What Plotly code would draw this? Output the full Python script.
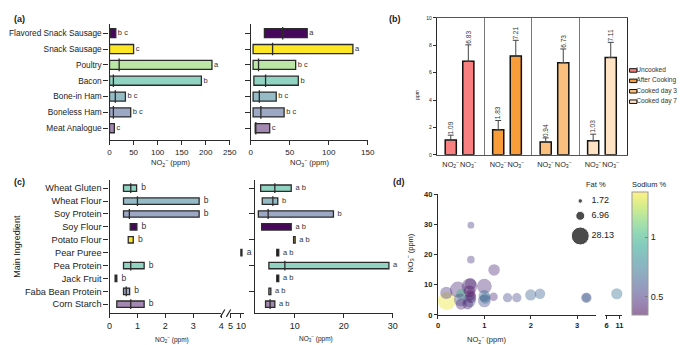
import numpy as np
import plotly.graph_objects as go
from plotly.colors import sequential, hex_to_rgb

W, H = 685, 345
FONT = "Liberation Sans, Arial, sans-serif"
DARK = "#2b2b2b"
TXT = "#333333"

# ---------------- DATA ----------------
# (a) processed meats
meat_products = ["Flavored Snack Sausage", "Snack Sausage", "Poultry", "Bacon",
                 "Bone-in Ham", "Boneless Ham", "Meat Analogue"]
meat_no2_min = [1, 0, 0, 0, 0, 0, 0]
meat_no2_max = [13, 50, 213, 191, 33, 44, 10]
meat_no2_med = [None, None, 20, 8, 12, 8, None]
meat_no2_grp = ["b c", "c", "a", "b", "b c", "b c", "c"]
meat_no3_min = [17.5, 3, 3, 4, 3, 3, 5.7]
meat_no3_max = [72.4, 131, 57.6, 61, 32.7, 42.8, 24.3]
meat_no3_med = [41, 28, 10, 19, 11, 13, 6.5]
meat_no3_grp = ["a", "a", "b c", "b", "b c", "b c", "c"]

# (b) cooking stages
stages = ["Uncooked", "After Cooking", "Cooked day 3", "Cooked day 7"]
ions = ["NO<sub>2</sub><sup>−</sup>", "NO<sub>3</sub><sup>−</sup>"]
no2_mean = [1.09, 1.83, 0.94, 1.03]
no2_sd = [0.35, 0.68, 0.30, 0.48]
no3_mean = [6.83, 7.21, 6.73, 7.11]
no3_sd = [1.20, 1.15, 1.00, 1.10]

# (c) main ingredient
ingredients = ["Wheat Gluten", "Wheat Flour", "Soy Protein", "Soy Flour", "Potato Flour",
               "Pear Puree", "Pea Protein", "Jack Fruit", "Faba Bean Protein", "Corn Starch"]
ing_no2_min = [0.5, 0.5, 0.5, 0.74, 0.67, 10.0, 0.5, 0.2, 0.5, 0.26]
ing_no2_max = [0.97, 3.21, 3.21, 0.98, 0.85, 10.5, 1.24, 0.26, 0.72, 1.24]
ing_no2_med = [0.76, 1.0, 0.71, None, None, None, 0.76, None, 0.6, 0.76]
ing_no2_grp = ["b", "b", "b", "b", "b", "a", "b", "b", "b", "b"]
ing_no3_min = [3.07, 3.4, 2.6, 3.27, 9.78, 6.36, 4.75, 6.36, 4.75, 4.07]
ing_no3_max = [9.3, 6.56, 17.9, 9.3, 10.1, 6.76, 29.2, 6.76, 5.15, 5.96]
ing_no3_med = [5.96, 5.56, 4.6, None, None, None, 8.0, None, None, 5.0]
ing_no3_grp = ["a b", "b", "b", "a b", "a b", "a b", "a", "a b", "a b", "a b"]

# (d) bubble scatter
nitrite = [0.19, 0.18, 0.43, 0.50, 0.50, 0.48, 0.71, 0.71, 1.21, 0.68, 0.70, 0.68, 0.70, 0.68,
           0.71, 0.64, 1.00, 1.00, 1.00, 1.02, 1.20, 1.50, 1.70, 2.00, 2.20, 3.20, 3.20, 10.0]
nitrate = [4.6, 7.3, 8.4, 6.8, 3.6, 5.0, 29.7, 18.3, 14.9, 9.5, 10.3, 7.8, 6.5, 4.6,
           5.7, 3.6, 9.5, 6.3, 4.6, 5.5, 6.0, 5.7, 5.7, 6.6, 7.0, 5.7, 5.7, 7.0]
fat = [28.13, 13, 22, 9, 11, 14, 4, 5, 11.5, 21, 12, 12, 10, 14,
       10, 10, 19, 12, 14, 10, 6, 7.5, 7.5, 11, 9.5, 9.5, 7, 11]
sodium = [1.35, 0.48, 0.45, 1.0, 0.42, 0.55, 0.5, 0.5, 0.45, 0.45, 0.4, 0.38, 0.36, 0.62,
          0.38, 0.4, 0.45, 0.65, 0.55, 0.7, 0.45, 0.55, 0.55, 0.65, 0.65, 0.6, 0.62, 0.7]
fat_legend = [1.72, 6.96, 28.13]

# ---------------- STYLE ----------------
meat_colors = ["#46085a", "#fde725", "#bce6a6", "#90d3c1", "#94bbc6", "#9da8c5", "#a388b1"]
ing_colors = ["#90d3c1", "#94bbc6", "#9da8c5", "#46085a", "#fde725",
              "#111111", "#90d3c1", "#111111", "#9da8c5", "#a388b1"]
stage_colors = ["#f98080", "#f99c3a", "#fbc07e", "#fde2c4"]
NB = "\u00a0"


def dx(a, b):
    return [a / W, b / W]


def dy(top, bottom):
    return [1 - bottom / H, 1 - top / H]


def rgba(hexc, a):
    r, g, b = hex_to_rgb(hexc)
    return f"rgba({r},{g},{b},{a})"


vir = sequential.Viridis
cscale = [[i / (len(vir) - 1), rgba(c, 0.55)] for i, c in enumerate(vir)]

fig = go.Figure()


def float_bars(cats, mins, maxs, colors, xa, ya, width):
    return go.Bar(orientation="h", y=cats, x=[b - a for a, b in zip(mins, maxs)], base=mins,
                  width=width, marker=dict(color=colors, line=dict(color=DARK, width=1.3)),
                  xaxis=xa, yaxis=ya, showlegend=False, hoverinfo="skip")


def med_marks(cats, meds, xa, ya, size):
    c = [k for k, m in zip(cats, meds) if m is not None]
    m = [v for v in meds if v is not None]
    return go.Scatter(x=m, y=c, mode="markers", xaxis=xa, yaxis=ya, showlegend=False,
                      hoverinfo="skip",
                      marker=dict(symbol="line-ns", size=size, line=dict(color=DARK, width=1.3)))


def letters(cats, xs, txt, xa, ya, size, pad=1):
    return go.Scatter(x=xs, y=cats, text=[NB * pad + t for t in txt], mode="text",
                      textposition="middle right",
                      textfont=dict(size=size, color=TXT, family=FONT), xaxis=xa, yaxis=ya,
                      showlegend=False, hoverinfo="skip", cliponaxis=False)


def pick(idx, seq):
    return [seq[i] for i in idx]


# (a) left / right
fig.add_trace(float_bars(meat_products, meat_no2_min, meat_no2_max, meat_colors, "x", "y", 0.57))
fig.add_trace(med_marks(meat_products, meat_no2_med, "x", "y", 9))
fig.add_trace(letters(meat_products, meat_no2_max, meat_no2_grp, "x", "y", 7.5))
fig.add_trace(float_bars(meat_products, meat_no3_min, meat_no3_max, meat_colors, "x2", "y2", 0.57))
fig.add_trace(med_marks(meat_products, meat_no3_med, "x2", "y2", 9))
fig.add_trace(letters(meat_products, meat_no3_max, meat_no3_grp, "x2", "y2", 7.5))

# (b) bars
offs = [0.29, 0.66]
for g, st in enumerate(stages):
    fig.add_trace(go.Bar(x=[g + offs[0], g + offs[1]], y=[no2_mean[g], no3_mean[g]], width=0.234,
                         marker=dict(color=stage_colors[g], line=dict(color="#111", width=1.5)),
                         error_y=dict(type="data", symmetric=False, array=[no2_sd[g], no3_sd[g]],
                                      arrayminus=[0, 0], thickness=1, width=3, color="#444"),
                         xaxis="x3", yaxis="y3", showlegend=False, name=st, hoverinfo="skip"))
fig.add_trace(go.Scatter(x=[0.5], y=[0], mode="markers", marker=dict(opacity=0), xaxis="x4",
                         yaxis="y3", showlegend=False, hoverinfo="skip"))
# (b) legend (drawn manually for compact spacing)
leg_y = [60 + 10.7 * i for i in range(len(stages))]
fig.add_trace(go.Bar(orientation="h", y=leg_y, x=[7.5] * len(stages), base=[627.7] * len(stages),
                     width=3.6, marker=dict(color=stage_colors, line=dict(color="#111", width=1)),
                     xaxis="x5", yaxis="y5", showlegend=False, hoverinfo="skip"))
fig.add_trace(go.Scatter(x=[634.5] * len(stages), y=leg_y, text=stages, mode="text",
                         textposition="middle right",
                         textfont=dict(size=6.6, color=TXT, family=FONT), xaxis="x5", yaxis="y5",
                         showlegend=False, hoverinfo="skip", cliponaxis=False))

# (c) left (broken axis) / right
lo = [i for i, m in enumerate(ing_no2_max) if m <= 4]
hi = [i for i, m in enumerate(ing_no2_min) if m >= 5]
for idx, xa in ((lo, "x6"), (hi, "x7")):
    fig.add_trace(float_bars(pick(idx, ingredients), pick(idx, ing_no2_min), pick(idx, ing_no2_max),
                             pick(idx, ing_colors), xa, "y6", 0.5))
    fig.add_trace(med_marks(pick(idx, ingredients), pick(idx, ing_no2_med), xa, "y6", 7))
    fig.add_trace(letters(pick(idx, ingredients), pick(idx, ing_no2_max), pick(idx, ing_no2_grp),
                          xa, "y6", 8.5, pad=2))
fig.add_trace(float_bars(ingredients, ing_no3_min, ing_no3_max, ing_colors, "x8", "y8", 0.5))
fig.add_trace(med_marks(ingredients, ing_no3_med, "x8", "y8", 7))
fig.add_trace(letters(ingredients, ing_no3_max, ing_no3_grp, "x8", "y8", 7.5, pad=2))

# (d) bubbles
K = 3.39
main = [i for i, v in enumerate(nitrite) if v <= 3.4]
far = [i for i, v in enumerate(nitrite) if v > 3.4]
for idx, xa, show in ((main, "x9", True), (far, "x10", False)):
    fig.add_trace(go.Scatter(
        x=pick(idx, nitrite), y=pick(idx, nitrate), mode="markers", xaxis=xa, yaxis="y9",
        showlegend=False, hoverinfo="skip", cliponaxis=False,
        marker=dict(size=[K * np.sqrt(f) for f in pick(idx, fat)], color=pick(idx, sodium),
                    colorscale=cscale, cmin=0.34, cmax=1.38, showscale=show, line=dict(width=0),
                    colorbar=dict(x=630.7 / W, xanchor="left", y=1 - 248.3 / H, yanchor="middle",
                                  len=123, lenmode="pixels", thickness=16,
                                  thicknessmode="pixels", xpad=0, ypad=0, outlinewidth=1,
                                  outlinecolor="#999", tickvals=[0.5, 1], ticktext=["0.5", "1"],
                                  ticks="inside", ticklen=3, tickcolor="#777",
                                  tickfont=dict(size=9, color="#222", family=FONT)))))
# size legend
fig.add_trace(go.Scatter(x=[577.7] * 3, y=[194, 209.3, 230], mode="markers",
                         marker=dict(size=[K * np.sqrt(f) for f in fat_legend], color="black"),
                         xaxis="x11", yaxis="y11", showlegend=False, hoverinfo="skip",
                         cliponaxis=False))
fig.add_trace(go.Scatter(x=[589] * 3, y=[194, 209.3, 230], mode="text",
                         text=[f"{v:.2f}" for v in fat_legend], textposition="middle right",
                         textfont=dict(size=9, color="#222", family=FONT),
                         xaxis="x11", yaxis="y11", showlegend=False, hoverinfo="skip",
                         cliponaxis=False))


# ---------------- AXES ----------------
def ax(**kw):
    d = dict(showgrid=False, zeroline=False, showline=True, linecolor=DARK, linewidth=1.3,
             ticks="outside", tickcolor=DARK, tickwidth=1, ticklen=4,
             tickfont=dict(size=8, color="#222", family=FONT), fixedrange=True)
    d.update(kw)
    return d


def hidden(domain, rng, anchor):
    return dict(domain=domain, range=rng, visible=False, anchor=anchor, fixedrange=True)


bold = lambda vals: [f"<b>{v}</b>" for v in vals]

layout = dict(
    xaxis=ax(domain=dx(100, 222), range=[0, 250], tickvals=[0, 50, 100, 150, 200, 250], anchor="y"),
    yaxis=ax(domain=dy(12, 131.7), type="category", categoryorder="array",
             categoryarray=meat_products, range=[6.76, -0.6], anchor="x", ticklen=5,
             tickfont=dict(size=8.3, color="#222", family=FONT)),
    xaxis2=ax(domain=dx(243.3, 362), range=[0, 150], tickvals=[0, 50, 100, 150], anchor="y2"),
    yaxis2=ax(domain=dy(12, 131.7), type="category", categoryorder="array",
              categoryarray=meat_products, range=[6.76, -0.6], anchor="x2", ticklen=5,
              showticklabels=False),
    xaxis3=ax(domain=dx(432.3, 625), range=[0, 4], anchor="y3", mirror=True, linecolor="#555",
              tickvals=[g + o for g in range(len(stages)) for o in offs],
              ticktext=ions * len(stages), ticks="", ticklabelstandoff=2, tickangle=0,
              tickfont=dict(size=7.3, color="#222", family=FONT)),
    xaxis4=dict(overlaying="x3", range=[0, 4], anchor="y3", showline=False, ticks="",
                showticklabels=False, showgrid=True, gridcolor="#777", gridwidth=1,
                tickvals=[1, 2, 3], zeroline=False, fixedrange=True),
    yaxis3=ax(domain=dy(6, 146.7), range=[0, 10], tickvals=[0, 2, 4, 6, 8, 10], anchor="x3",
              mirror=True, ticklen=3, tickfont=dict(size=5, color="#222", family=FONT)),
    xaxis5=hidden(dx(626, 685), [626, 685], "y5"),
    yaxis5=hidden(dy(54, 98), [98, 54], "x5"),
    xaxis6=ax(domain=dx(100, 213.3), range=[0, 4], tickvals=[0, 1, 2, 3, 4], anchor="y6",
              tickfont=dict(size=9, color="#222", family=FONT)),
    xaxis7=ax(domain=dx(222.7, 236.7), range=[5, 11.6], tickvals=[5, 10], anchor="y6",
              tickfont=dict(size=9, color="#222", family=FONT)),
    yaxis6=ax(domain=dy(173, 309.3), type="category", categoryorder="array",
              categoryarray=ingredients, range=[9.7, -0.6], anchor="x6", ticklen=5,
              tickfont=dict(size=9.2, color="#222", family=FONT)),
    xaxis8=ax(domain=dx(248, 387.5), range=[2, 30], tickvals=[10, 20, 30], anchor="y8",
              tickfont=dict(size=9, color="#222", family=FONT)),
    yaxis8=ax(domain=dy(173, 309.3), type="category", categoryorder="array",
              categoryarray=ingredients, range=[9.7, -0.6], anchor="x8", ticklen=5,
              showticklabels=False),
    xaxis9=ax(domain=dx(433.3, 593.3), range=[0, 3.4], tickvals=[0, 1, 2, 3],
              ticktext=bold([0, 1, 2, 3]), anchor="y9", ticklen=3,
              tickfont=dict(size=7.5, color="#222", family=FONT)),
    xaxis10=ax(domain=dx(602.3, 620), range=[5.23, 12.0], tickvals=[6, 11],
               ticktext=bold([6, 11]), anchor="y9", ticklen=3,
               tickfont=dict(size=7.5, color="#222", family=FONT)),
    yaxis9=ax(domain=dy(187, 311), range=[0, 40], tickvals=[0, 10, 20, 30, 40],
              ticktext=bold([0, 10, 20, 30, 40]), anchor="x9", ticklen=3,
              tickfont=dict(size=7.5, color="#222", family=FONT)),
    xaxis11=hidden(dx(560, 630), [560, 630], "y11"),
    yaxis11=hidden(dy(183, 242), [242, 183], "x11"),
)


def ann(x, y, text, size, angle=0, bold_=False, xanchor="center"):
    return dict(x=x / W, y=1 - y / H, xref="paper", yref="paper", showarrow=False,
                text=f"<b>{text}</b>" if bold_ else text, textangle=angle, xanchor=xanchor,
                yanchor="middle", font=dict(size=size, color="#222", family=FONT))


NO2 = "NO<sub>2</sub><sup>−</sup> (ppm)"
NO3 = "NO<sub>3</sub><sup>−</sup> (ppm)"
anns = [
    ann(1, 7, "(a)", 9, bold_=True, xanchor="left"),
    ann(390, 7, "(b)", 9, bold_=True),
    ann(1, 175, "(c)", 9, bold_=True, xanchor="left"),
    ann(394, 175, "(d)", 9, bold_=True),
    ann(161.7, 155, NO2, 7.5),
    ann(303, 155, NO3, 7.5),
    ann(412, 85, "ppm", 5, angle=-90),
    ann(6, 240, "Main Ingredient", 9, angle=-90),
    ann(163, 336, NO2, 6.5),
    ann(310, 335, NO3, 6.5),
    ann(483, 336.7, NO2, 7.5),
    ann(405, 248, NO3, 7.5, angle=-90),
    ann(594, 177, "Fat %", 7.5),
    ann(648, 177, "Sodium %", 7.5),
]
# value labels above error bars in (b)
for g in range(len(stages)):
    for o, m, s in ((offs[0], no2_mean[g], no2_sd[g]), (offs[1], no3_mean[g], no3_sd[g])):
        anns.append(dict(x=g + o, y=m + s, xref="x3", yref="y3", text=f"{m:.2f}", textangle=-90,
                         showarrow=False, xanchor="center", yanchor="bottom", borderpad=0,
                         font=dict(size=6.5, color="#333", family=FONT)))

# axis break marks in (c)
shapes = []
for xs in (212.5, 218.5):
    shapes.append(dict(type="line", xref="paper", yref="paper", x0=xs / W, x1=(xs + 4.5) / W,
                       y0=1 - 313 / H, y1=1 - 305.5 / H, line=dict(color=DARK, width=1.2)))

fig.update_layout(**layout)
fig.update_layout(width=W, height=H, margin=dict(l=0, r=0, t=0, b=0), autosize=False,
                  paper_bgcolor="white", plot_bgcolor="white", barmode="overlay",
                  font=dict(family=FONT, color="#222"), annotations=anns, shapes=shapes,
                  showlegend=False)
fig.write_html("out.html")
